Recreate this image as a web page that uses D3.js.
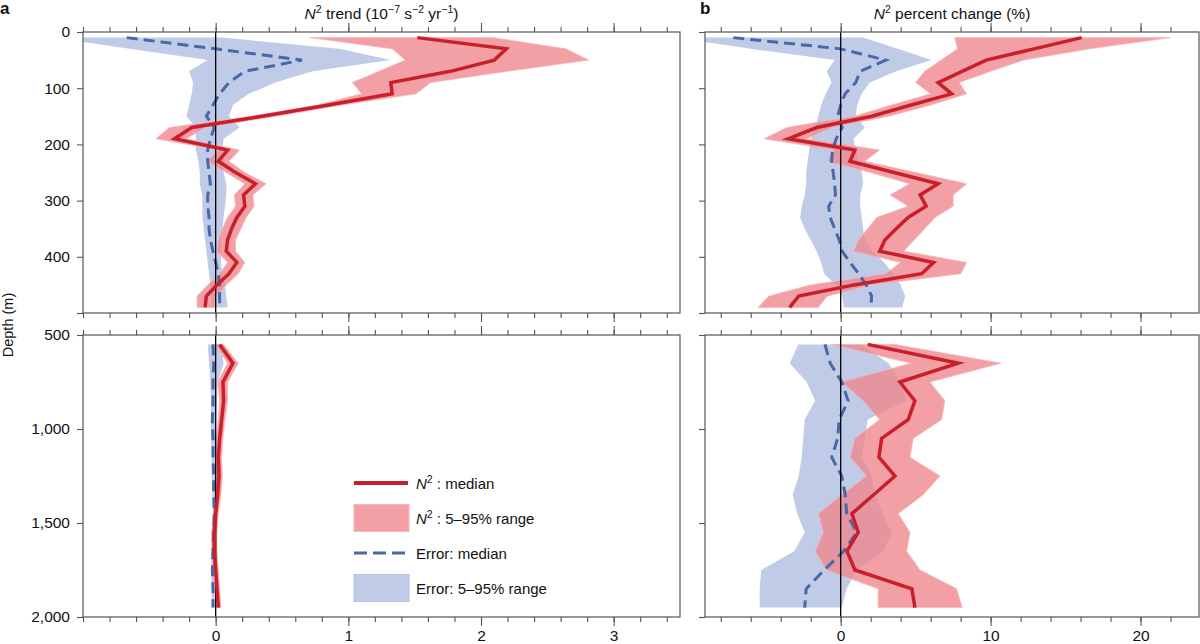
<!DOCTYPE html>
<html>
<head>
<meta charset="utf-8">
<script src="https://cdn.jsdelivr.net/npm/d3@7"></script>
<style>
  body { margin: 0; background: #fff; }
  svg { display: block; font-family: "Liberation Sans", Arial, sans-serif; }
</style>
</head>
<body>
<script>
// depth levels (m)
const depthTop = [10, 30, 50, 70, 90, 110, 130, 150, 170, 190, 210, 230, 250, 270, 290, 310, 330, 350, 370, 390, 410, 430, 450, 470, 490];
const depthBot = [550, 650, 750, 850, 950, 1050, 1150, 1250, 1350, 1450, 1550, 1650, 1750, 1850, 1950];

// panel a: N2 trend (1e-7 s-2 yr-1)
const trendMedTop = [1.52, 2.19, 2.10, 1.77, 1.32, 1.33, 0.85, 0.35, -0.18, -0.31, 0.09, 0.02, 0.15, 0.30, 0.21, 0.22, 0.16, 0.12, 0.09, 0.08, 0.16, 0.10, 0.01, -0.07, -0.08];
const trendLoTop = [0.71, 1.33, 1.43, 1.23, 1.03, 1.10, 0.77, 0.27, -0.35, -0.45, 0.02, -0.06, 0.08, 0.22, 0.14, 0.15, 0.09, 0.05, 0.02, 0.01, 0.09, 0.03, -0.06, -0.14, -0.14];
const trendHiTop = [2.09, 2.64, 2.81, 2.20, 1.62, 1.51, 0.95, 0.45, -0.08, -0.22, 0.18, 0.10, 0.22, 0.38, 0.28, 0.29, 0.23, 0.19, 0.15, 0.15, 0.22, 0.17, 0.08, 0.00, -0.01];
const errMedTop = [-0.67, 0.0, 0.65, 0.22, 0.10, 0.03, -0.02, -0.07, -0.01, -0.04, -0.06, -0.06, -0.05, -0.04, -0.06, -0.06, -0.05, -0.05, -0.04, -0.02, 0.0, 0.02, 0.03, 0.03, 0.03];
const errLoTop = [-1.23, -0.65, -0.06, -0.20, -0.17, -0.18, -0.20, -0.22, -0.15, -0.15, -0.15, -0.13, -0.12, -0.12, -0.10, -0.10, -0.10, -0.09, -0.08, -0.07, -0.06, -0.05, -0.04, -0.03, -0.03];
const errHiTop = [0.05, 0.93, 1.32, 0.73, 0.45, 0.25, 0.13, 0.10, 0.18, 0.06, 0.05, 0.05, 0.06, 0.08, 0.08, 0.07, 0.06, 0.05, 0.04, 0.04, 0.04, 0.05, 0.07, 0.08, 0.09];

const trendMedBot = [0.03, 0.13, 0.055, 0.06, 0.045, 0.03, 0.02, 0.025, 0.015, 0.0, -0.01, -0.01, 0.0, 0.01, 0.02];
const trendLoBot = [0.0, 0.09, 0.015, 0.03, 0.02, 0.005, -0.005, 0.0, -0.01, -0.02, -0.03, -0.03, -0.02, -0.01, 0.0];
const trendHiBot = [0.06, 0.17, 0.09, 0.09, 0.07, 0.055, 0.045, 0.05, 0.04, 0.02, 0.01, 0.01, 0.02, 0.03, 0.04];
const errMedBotA = [-0.02, -0.015, -0.02, -0.02, -0.025, -0.02, -0.02, -0.015, -0.015, -0.01, -0.015, -0.02, -0.025, -0.02, -0.02];
const errLoBotA = [-0.06, -0.05, -0.04, -0.035, -0.035, -0.035, -0.03, -0.03, -0.025, -0.02, -0.025, -0.03, -0.035, -0.03, -0.03];
const errHiBotA = [0.04, 0.06, 0.015, 0.01, 0.005, 0.005, 0.005, 0.0, 0.0, 0.0, -0.005, -0.01, -0.01, -0.01, -0.01];

// panel b: N2 percent change (%)
const pctMedTop = [16.07, 12.9, 9.7, 8.1, 6.5, 7.4, 4.7, 2.07, -1.6, -3.5, 0.95, 0.62, 3.56, 6.5, 5.3, 5.7, 4.5, 3.7, 2.95, 2.6, 6.2, 5.4, 0.9, -2.8, -3.4];
const pctLoTop = [7.6, 7.8, 6.7, 5.6, 5.0, 6.0, 3.4, 0.9, -3.6, -5.1, -0.4, -0.9, 2.0, 4.6, 3.3, 4.5, 2.4, 1.8, 1.2, 0.85, 4.0, 3.0, -2.0, -4.8, -5.5];
const pctHiTop = [22.0, 16.6, 12.2, 10.0, 7.9, 8.4, 6.0, 3.2, -0.6, -2.3, 2.6, 1.6, 5.0, 8.4, 7.5, 7.5, 6.3, 5.6, 4.9, 4.2, 8.4, 8.0, 2.0, -0.9, -1.5];
const errPctMedTop = [-7.16, 0.0, 3.0, 1.3, 1.0, 0.3, 0.0, -0.2, 0.1, -0.3, -0.55, -0.6, -0.5, -0.4, -0.35, -0.8, -0.7, -0.4, -0.1, 0.1, 0.62, 1.2, 1.7, 2.07, 2.0];
const errPctLoTop = [-11.0, -6.0, -0.4, -0.93, -0.6, -1.0, -1.3, -1.5, -1.7, -2.0, -2.1, -2.2, -2.3, -2.3, -2.4, -2.6, -2.7, -2.4, -2.0, -1.6, -1.3, -1.1, -0.3, 0.1, 0.2];
const errPctHiTop = [1.5, 3.8, 6.07, 3.7, 1.95, 1.4, 1.1, 1.0, 1.6, 0.85, 1.0, 1.2, 1.4, 1.5, 1.3, 1.3, 1.4, 1.5, 1.6, 2.1, 2.9, 3.5, 4.0, 4.3, 4.1];

const pctMedBot = [1.8, 7.84, 3.95, 4.95, 4.5, 2.73, 2.55, 3.62, 2.2, 0.75, 1.17, 0.42, 0.95, 4.75, 4.95];
const pctLoBot = [-0.6, 4.7, 0.07, 1.5, 2.6, 0.95, 0.62, 1.73, 0.07, -1.49, -1.16, -1.71, -0.93, 2.5, 2.5];
const pctHiBot = [3.62, 10.7, 5.95, 6.95, 6.73, 4.84, 4.62, 6.62, 5.5, 3.84, 4.62, 4.4, 5.29, 7.73, 8.1];
const errPctMedBot = [-1.05, -0.7, 0.07, 0.5, -0.1, -0.2, -0.6, 0.07, 0.3, 0.4, 1.07, 0.2, -1.1, -2.3, -2.4];
const errPctLoBot = [-2.83, -3.4, -2.27, -1.7, -2.4, -2.5, -2.6, -2.8, -3.2, -2.9, -2.4, -3.1, -5.3, -5.4, -5.4];
const errPctHiBot = [1.3, 3.2, 4.0, 4.4, 1.8, 1.6, 1.4, 2.07, 2.3, 2.8, 3.4, 2.85, 1.07, 0.4, 0.07];

// ticks
const yTicksTop = [0, 100, 200, 300, 400, 500];
const yTicksBot = [500, 1000, 1500, 2000];
const xMajorA = [0, 1, 2, 3];
const xMinorA = d3.range(-10, 35, 2).map(d => d / 10);
const xMajorB = [0, 10, 20];
const xMinorB = d3.range(-8, 23, 2);

const legendItems = ["median", "5\u201395% range", "Error: median", "Error: 5\u201395% range"];

const RED = "#c81f2b", PINK = "#ee858c", BLUE = "#c0cbe8", DBLUE = "#4868a8", FRAME = "#555";

const svg = d3.select("body").append("svg").attr("width", 1200).attr("height", 644);

const xA = d3.scaleLinear().domain([-1, 3.5]).range([83, 680]);
const xB = d3.scaleLinear().domain([-9.05, 23.9]).range([705, 1199]);
const yTop = d3.scaleLinear().domain([0, 500]).range([32, 313]);
const yBot = d3.scaleLinear().domain([500, 2000]).range([335, 617]);

const zip = (depth, a, b) => depth.map((d, i) => ({ d, a: a[i], b: b ? b[i] : null }));

const panels = [
  { id: "aT", x: xA, y: yTop, depth: depthTop, med: trendMedTop, lo: trendLoTop, hi: trendHiTop, em: errMedTop, el: errLoTop, eh: errHiTop },
  { id: "aB", x: xA, y: yBot, depth: depthBot, med: trendMedBot, lo: trendLoBot, hi: trendHiBot, em: errMedBotA, el: errLoBotA, eh: errHiBotA },
  { id: "bT", x: xB, y: yTop, depth: depthTop, med: pctMedTop, lo: pctLoTop, hi: pctHiTop, em: errPctMedTop, el: errPctLoTop, eh: errPctHiTop },
  { id: "bB", x: xB, y: yBot, depth: depthBot, med: pctMedBot, lo: pctLoBot, hi: pctHiBot, em: errPctMedBot, el: errPctLoBot, eh: errPctHiBot }
];

panels.forEach(p => {
  const [x0, x1] = p.x.range(), [y0, y1] = p.y.range();
  svg.append("clipPath").attr("id", "clip" + p.id)
    .append("rect").attr("x", x0).attr("y", y0).attr("width", x1 - x0).attr("height", y1 - y0);
  const g = svg.append("g").attr("clip-path", `url(#clip${p.id})`);

  const band = d3.area()
    .y(r => p.y(r.d)).x0(r => p.x(r.a)).x1(r => p.x(r.b));
  const line = d3.line().x(r => p.x(r.a)).y(r => p.y(r.d));

  g.append("path").datum(zip(p.depth, p.el, p.eh)).attr("d", band)
    .attr("fill", BLUE);
  g.append("path").datum(zip(p.depth, p.lo, p.hi)).attr("d", band)
    .attr("fill", PINK).attr("fill-opacity", 0.78)
    .attr("stroke", "#f6b5b8").attr("stroke-width", 0.8);
  g.append("path").datum(zip(p.depth, p.em)).attr("d", line)
    .attr("fill", "none").attr("stroke", DBLUE).attr("stroke-width", 3)
    .attr("stroke-dasharray", "11,6");
  g.append("line").attr("x1", p.x(0)).attr("x2", p.x(0)).attr("y1", y0).attr("y2", y1)
    .attr("stroke", "#000").attr("stroke-width", 1.3);
  g.append("path").datum(zip(p.depth, p.med)).attr("d", line)
    .attr("fill", "none").attr("stroke", RED).attr("stroke-width", 3.5)
    .attr("stroke-linejoin", "miter");

  svg.append("rect").attr("x", x0).attr("y", y0).attr("width", x1 - x0).attr("height", y1 - y0)
    .attr("fill", "none").attr("stroke", FRAME).attr("stroke-width", 1.2);
});

function styleAxis(g) {
  g.select(".domain").remove();
  g.selectAll(".tick line").attr("stroke", FRAME).attr("stroke-width", 1.1);
  g.selectAll(".tick text").attr("fill", "#111").style("font-size", "15.5px")
    .style("font-family", '"Liberation Sans", Arial, sans-serif');
}

function xAxes(x, minor, major, yPos, dir, labels) {
  const mk = dir === "top" ? d3.axisTop : d3.axisBottom;
  svg.append("g").attr("transform", `translate(0,${yPos})`)
    .call(mk(x).tickValues(minor).tickSize(5).tickFormat("")).call(styleAxis);
  svg.append("g").attr("transform", `translate(0,${yPos})`)
    .call(mk(x).tickValues(major).tickSize(9).tickPadding(4).tickFormat(labels ? d3.format("d") : ""))
    .call(styleAxis);
}

[[xA, xMinorA, xMajorA], [xB, xMinorB, xMajorB]].forEach(([x, mi, ma]) => {
  xAxes(x, mi, ma, yTop.range()[0], "top", false);
  xAxes(x, mi, ma, yTop.range()[1], "bottom", false);
  xAxes(x, mi, ma, yBot.range()[0], "top", false);
  xAxes(x, mi, ma, yBot.range()[1], "bottom", true);
});

// depth axes
[[xA, true], [xB, false]].forEach(([x, labels]) => {
  const left = x.range()[0];
  svg.append("g").attr("transform", `translate(${left},0)`)
    .call(d3.axisLeft(yTop).tickValues(yTicksTop).tickSize(6).tickPadding(7)
      .tickFormat(d => (labels && d < 500) ? d3.format(",")(d) : ""))
    .call(styleAxis);
  svg.append("g").attr("transform", `translate(${left},0)`)
    .call(d3.axisLeft(yBot).tickValues(yTicksBot).tickSize(6).tickPadding(7)
      .tickFormat(d => labels ? d3.format(",")(d) : ""))
    .call(styleAxis);
});

// titles
const txt = (x, y, size) => svg.append("text").attr("x", x).attr("y", y)
  .style("font-size", size + "px").attr("fill", "#111");

txt(0, 14, 17).attr("font-weight", "bold").text("a");
txt(700, 14, 17).attr("font-weight", "bold").text("b");

// rich text: parts of [string, kind] where kind is "i" (italic), "s" (superscript) or ""
function rich(t, parts) {
  let up = false;
  parts.forEach(([s, kind]) => {
    const ts = t.append("tspan").text(s);
    if (kind === "s") {
      ts.attr("dy", up ? 0 : -6).style("font-size", "10.5px");
      up = true;
    } else {
      if (up) ts.attr("dy", 6);
      up = false;
      if (kind === "i") ts.attr("font-style", "italic");
    }
  });
  return t;
}

rich(txt((83 + 680) / 2, 19, 15.5).attr("text-anchor", "middle"), [
  ["N", "i"], ["2", "s"], [" trend (10", ""], ["\u22127", "s"], [" s", ""],
  ["\u22122", "s"], [" yr", ""], ["\u22121", "s"], [")", ""]
]);
rich(txt((705 + 1199) / 2, 19, 15.5).attr("text-anchor", "middle"), [
  ["N", "i"], ["2", "s"], [" percent change (%)", ""]
]);

txt(0, 0, 14.5).attr("text-anchor", "middle")
  .attr("transform", "translate(13,325) rotate(-90)").text("Depth (m)");

// legend
const lg = svg.append("g").attr("transform", "translate(354,0)");
const rows = [483, 518, 553, 588];
lg.append("line").attr("x1", 0).attr("x2", 54).attr("y1", rows[0]).attr("y2", rows[0])
  .attr("stroke", RED).attr("stroke-width", 4);
lg.append("rect").attr("x", 0).attr("y", rows[1] - 13.5).attr("width", 55).attr("height", 27)
  .attr("fill", PINK).attr("fill-opacity", 0.78).attr("stroke", "#f6b5b8");
lg.append("line").attr("x1", 0).attr("x2", 54).attr("y1", rows[2]).attr("y2", rows[2])
  .attr("stroke", DBLUE).attr("stroke-width", 3).attr("stroke-dasharray", "13,6");
lg.append("rect").attr("x", 0).attr("y", rows[3] - 13.5).attr("width", 55).attr("height", 27)
  .attr("fill", BLUE).attr("stroke", "#b4c0e2");

legendItems.forEach((s, i) => {
  const t = lg.append("text").attr("x", 62).attr("y", rows[i] + 5.5)
    .style("font-size", "15px").attr("fill", "#111");
  if (i < 2) rich(t, [["N", "i"], ["2", "s"], [" : " + s, ""]]);
  else t.text(s);
});
</script>
</body>
</html>
